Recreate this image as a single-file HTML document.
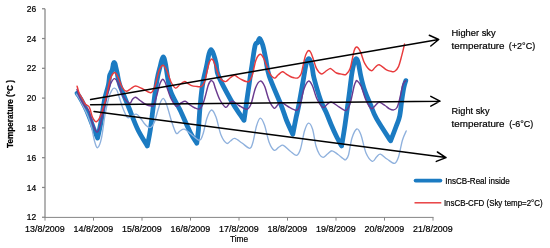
<!DOCTYPE html>
<html><head><meta charset="utf-8"><title>Chart</title>
<style>html,body{margin:0;padding:0;background:#fff}body{width:550px;height:248px;overflow:hidden}</style></head>
<body>
<svg width="550" height="248" viewBox="0 0 550 248" style="display:block;font-family:'Liberation Sans',sans-serif" fill="#000">
<rect width="550" height="248" fill="#fff"/>
<g stroke="#868686" stroke-width="1.25" fill="none">
<path d="M45.0,8.75V217.75"/>
<path d="M45.0,217.4H433.5" stroke-width="1"/>
<path d="M42,8.75H45.0"/>
<path d="M42,38.54H45.0"/>
<path d="M42,68.32H45.0"/>
<path d="M42,98.11H45.0"/>
<path d="M42,127.89H45.0"/>
<path d="M42,157.68H45.0"/>
<path d="M42,187.46H45.0"/>
<path d="M42,217.25H45.0"/>
<path d="M45.00,217.25V220.6" stroke-width="1"/>
<path d="M93.50,217.25V220.6" stroke-width="1"/>
<path d="M142.00,217.25V220.6" stroke-width="1"/>
<path d="M190.50,217.25V220.6" stroke-width="1"/>
<path d="M239.00,217.25V220.6" stroke-width="1"/>
<path d="M287.50,217.25V220.6" stroke-width="1"/>
<path d="M336.00,217.25V220.6" stroke-width="1"/>
<path d="M384.50,217.25V220.6" stroke-width="1"/>
<path d="M433.00,217.25V220.6" stroke-width="1"/>
</g>
<text x="36.2" y="11.85" font-size="8.2" text-anchor="end" font-weight="normal" stroke="#000" stroke-width="0.2" textLength="9.4" lengthAdjust="spacingAndGlyphs">26</text>
<text x="36.2" y="41.64" font-size="8.2" text-anchor="end" font-weight="normal" stroke="#000" stroke-width="0.2" textLength="9.4" lengthAdjust="spacingAndGlyphs">24</text>
<text x="36.2" y="71.42" font-size="8.2" text-anchor="end" font-weight="normal" stroke="#000" stroke-width="0.2" textLength="9.4" lengthAdjust="spacingAndGlyphs">22</text>
<text x="36.2" y="101.21" font-size="8.2" text-anchor="end" font-weight="normal" stroke="#000" stroke-width="0.2" textLength="9.4" lengthAdjust="spacingAndGlyphs">20</text>
<text x="36.2" y="130.99" font-size="8.2" text-anchor="end" font-weight="normal" stroke="#000" stroke-width="0.2" textLength="9.4" lengthAdjust="spacingAndGlyphs">18</text>
<text x="36.2" y="160.78" font-size="8.2" text-anchor="end" font-weight="normal" stroke="#000" stroke-width="0.2" textLength="9.4" lengthAdjust="spacingAndGlyphs">16</text>
<text x="36.2" y="190.56" font-size="8.2" text-anchor="end" font-weight="normal" stroke="#000" stroke-width="0.2" textLength="9.4" lengthAdjust="spacingAndGlyphs">14</text>
<text x="36.2" y="220.35" font-size="8.2" text-anchor="end" font-weight="normal" stroke="#000" stroke-width="0.2" textLength="9.4" lengthAdjust="spacingAndGlyphs">12</text>
<text x="25.10" y="232.0" font-size="8.2" text-anchor="start" font-weight="normal" stroke="#000" stroke-width="0.2" textLength="39.6" lengthAdjust="spacingAndGlyphs">13/8/2009</text>
<text x="73.60" y="232.0" font-size="8.2" text-anchor="start" font-weight="normal" stroke="#000" stroke-width="0.2" textLength="39.6" lengthAdjust="spacingAndGlyphs">14/8/2009</text>
<text x="122.10" y="232.0" font-size="8.2" text-anchor="start" font-weight="normal" stroke="#000" stroke-width="0.2" textLength="39.6" lengthAdjust="spacingAndGlyphs">15/8/2009</text>
<text x="170.60" y="232.0" font-size="8.2" text-anchor="start" font-weight="normal" stroke="#000" stroke-width="0.2" textLength="39.6" lengthAdjust="spacingAndGlyphs">16/8/2009</text>
<text x="219.10" y="232.0" font-size="8.2" text-anchor="start" font-weight="normal" stroke="#000" stroke-width="0.2" textLength="39.6" lengthAdjust="spacingAndGlyphs">17/8/2009</text>
<text x="267.60" y="232.0" font-size="8.2" text-anchor="start" font-weight="normal" stroke="#000" stroke-width="0.2" textLength="39.6" lengthAdjust="spacingAndGlyphs">18/8/2009</text>
<text x="316.10" y="232.0" font-size="8.2" text-anchor="start" font-weight="normal" stroke="#000" stroke-width="0.2" textLength="39.6" lengthAdjust="spacingAndGlyphs">19/8/2009</text>
<text x="364.60" y="232.0" font-size="8.2" text-anchor="start" font-weight="normal" stroke="#000" stroke-width="0.2" textLength="39.6" lengthAdjust="spacingAndGlyphs">20/8/2009</text>
<text x="413.10" y="232.0" font-size="8.2" text-anchor="start" font-weight="normal" stroke="#000" stroke-width="0.2" textLength="39.6" lengthAdjust="spacingAndGlyphs">21/8/2009</text>
<text x="230.0" y="241.6" font-size="8.4" text-anchor="start" font-weight="normal" stroke="#000" stroke-width="0.2" textLength="18.2" lengthAdjust="spacingAndGlyphs">Time</text>
<text transform="translate(12.6,114) rotate(-90)" font-size="9" font-weight="bold" stroke="#000" stroke-width="0.25" text-anchor="middle" textLength="68" lengthAdjust="spacingAndGlyphs">Temperature (°C )</text>
<g fill="none" stroke-linecap="round" stroke-linejoin="round">
<path d="M77.0,93.3C77.5,94.1 79.0,95.9 80.2,98.0C81.5,100.1 83.0,103.0 84.5,106.0C86.0,109.0 87.5,112.3 89.0,116.0C90.5,119.7 92.1,124.3 93.5,128.0C94.9,131.7 96.9,136.3 97.6,138.0C98.2,135.3 99.8,128.3 101.0,122.0C102.2,115.7 103.3,106.2 104.5,100.0C105.7,93.8 107.6,89.0 108.4,85.0C109.2,81.0 109.2,77.8 109.6,75.8C110.0,73.8 110.4,74.0 110.8,73.0C111.2,72.0 111.8,71.1 112.2,70.0C112.6,68.9 112.7,67.6 112.9,66.5C113.1,65.4 113.2,64.3 113.4,63.6C113.6,62.9 113.9,62.4 114.2,62.4C114.5,62.4 114.7,62.8 115.0,63.6C115.3,64.4 115.4,65.4 115.8,67.0C116.2,68.6 116.5,70.0 117.2,73.0C117.9,76.0 117.8,79.2 119.8,85.0C121.8,90.8 126.0,100.5 129.0,108.0C132.0,115.5 134.9,123.7 138.0,130.0C141.1,136.3 145.8,143.3 147.3,146.0C147.8,143.3 149.3,136.8 150.3,130.0C151.3,123.2 152.4,113.3 153.5,105.0C154.6,96.7 155.9,86.5 157.0,80.0C158.1,73.5 159.3,69.8 160.3,66.0C161.3,62.2 162.1,57.3 163.0,57.0C163.9,56.7 164.3,58.5 165.5,64.0C166.7,69.5 167.8,82.3 170.2,90.0C172.6,97.7 176.8,103.2 180.2,110.3C183.5,117.4 187.5,127.0 190.3,132.5C193.1,138.0 195.7,141.4 196.8,143.2C197.1,141.0 197.9,135.5 198.4,130.0C198.9,124.5 199.3,115.8 199.8,110.0C200.3,104.2 200.7,99.7 201.2,95.0C201.7,90.3 202.3,85.8 203.0,82.0C203.7,78.2 204.5,75.0 205.2,72.0C205.9,69.0 206.4,67.0 207.0,64.0C207.6,61.0 208.3,56.4 209.0,54.0C209.7,51.6 210.2,49.6 211.0,49.6C211.8,49.6 212.6,51.6 213.5,54.0C214.4,56.4 215.4,60.3 216.2,64.0C217.0,67.7 216.0,70.0 218.5,76.0C221.0,82.0 227.4,93.8 231.0,100.2C234.6,106.6 237.8,111.2 240.0,114.5C242.2,117.8 243.3,119.3 244.0,120.3C244.3,118.2 245.2,112.2 245.8,108.0C246.4,103.8 247.0,99.0 247.6,95.0C248.2,91.0 248.7,87.5 249.2,84.0C249.7,80.5 250.1,77.2 250.6,74.0C251.1,70.8 251.5,68.3 252.0,65.0C252.5,61.7 253.1,57.2 253.6,54.0C254.1,50.8 254.6,47.8 255.0,46.0C255.4,44.2 255.6,43.9 256.0,43.4C256.4,42.9 256.9,43.6 257.5,42.8C258.1,42.0 258.9,38.2 259.8,38.6C260.7,39.0 261.7,41.8 262.7,45.0C263.7,48.2 264.5,52.8 265.6,58.0C266.7,63.2 266.7,68.3 269.2,76.0C271.7,83.7 277.9,97.0 280.8,104.3C283.7,111.6 284.4,115.0 286.4,120.0C288.4,125.0 291.7,131.9 292.8,134.3C293.3,131.6 295.0,123.0 296.0,118.0C297.0,113.0 297.8,110.6 299.0,104.3C300.2,98.0 302.2,86.2 303.3,80.0C304.4,73.8 304.9,70.2 305.5,67.0C306.1,63.8 306.4,62.4 307.0,61.0C307.6,59.6 308.2,58.5 308.8,58.6C309.4,58.7 309.9,59.9 310.5,61.5C311.1,63.1 311.7,65.2 312.3,68.0C312.9,70.8 312.6,72.6 314.0,78.0C315.4,83.4 318.6,94.5 320.6,100.2C322.6,105.9 324.2,107.9 326.0,112.0C327.8,116.1 329.6,121.0 331.3,125.0C333.0,129.0 334.6,132.5 336.3,136.0C338.0,139.5 340.7,144.3 341.6,146.0C342.2,142.5 343.7,134.0 345.0,125.0C346.3,116.0 348.4,100.5 349.5,92.0C350.6,83.5 351.1,78.7 351.8,74.0C352.5,69.3 353.1,66.6 353.8,64.0C354.5,61.4 355.4,58.8 356.2,58.6C356.9,58.4 357.5,60.1 358.3,63.0C359.1,65.9 359.8,71.5 360.8,76.0C361.8,80.5 362.9,85.3 364.5,90.0C366.1,94.7 368.3,99.6 370.3,104.3C372.3,109.0 373.0,112.3 376.4,118.4C379.8,124.5 388.2,137.1 390.6,140.8C391.6,138.3 394.8,130.1 396.3,126.0C397.8,121.9 398.8,120.3 399.7,116.0C400.6,111.7 401.1,105.0 401.8,100.2C402.5,95.4 403.2,90.6 403.9,87.3C404.6,84.0 405.5,81.7 405.8,80.6" stroke="#1b7bc2" stroke-width="4.8"/>
<path d="M76.2,94.0C76.7,94.8 78.1,96.3 79.3,98.5C80.5,100.7 82.0,104.0 83.5,107.0C85.0,110.0 86.7,113.2 88.0,116.5C89.3,119.8 90.4,122.9 91.5,127.0C92.6,131.1 93.5,137.6 94.5,141.0C95.5,144.4 96.4,148.2 97.6,147.7C98.8,147.2 100.3,143.4 101.5,138.0C102.7,132.6 103.8,121.8 105.0,115.0C106.2,108.2 107.8,101.2 109.0,97.0C110.2,92.8 111.1,91.5 112.0,90.0C112.9,88.5 113.7,88.1 114.5,88.2C115.3,88.3 116.2,89.1 117.0,90.5C117.8,91.9 118.0,93.5 119.0,96.5C120.0,99.5 121.6,105.0 123.0,108.5C124.4,112.0 126.0,116.0 127.3,117.3C128.6,118.6 129.5,117.0 131.0,116.5C132.5,116.0 134.7,114.0 136.2,114.2C137.7,114.4 138.7,116.0 140.0,117.5C141.3,119.0 143.0,121.9 144.3,123.5C145.6,125.1 146.9,126.4 148.0,127.0C149.1,127.6 149.9,128.1 151.0,127.3C152.1,126.5 153.3,125.0 154.5,122.0C155.7,119.0 157.2,112.4 158.3,109.0C159.4,105.6 160.0,103.3 160.8,101.5C161.6,99.7 162.4,98.3 163.2,98.3C164.0,98.3 164.7,99.7 165.5,101.5C166.3,103.3 166.9,105.6 168.0,109.0C169.1,112.4 170.4,118.0 171.8,122.0C173.2,126.0 174.8,131.7 176.2,133.2C177.6,134.7 178.7,131.7 180.0,131.0C181.3,130.3 182.5,128.7 184.3,129.2C186.1,129.7 188.5,132.2 191.0,134.0C193.5,135.8 197.4,140.2 199.4,140.2C201.4,140.2 201.7,137.7 203.0,134.0C204.3,130.3 205.6,122.0 207.0,118.0C208.4,114.0 210.0,110.2 211.5,110.0C213.0,109.8 214.4,112.8 216.0,117.0C217.6,121.2 219.2,130.6 221.0,135.0C222.8,139.4 225.0,142.3 226.6,143.3C228.2,144.3 229.2,141.8 230.5,141.0C231.8,140.2 232.8,138.1 234.7,138.4C236.6,138.7 239.5,141.3 242.0,143.0C244.5,144.7 248.0,148.5 249.8,148.3C251.6,148.1 251.9,145.7 253.0,142.0C254.1,138.3 255.3,130.0 256.5,126.0C257.7,122.0 258.9,118.3 260.2,118.1C261.5,117.9 263.0,121.0 264.5,125.0C266.0,129.0 267.4,137.8 269.0,142.0C270.6,146.2 272.6,149.5 274.3,150.3C276.0,151.1 277.5,147.8 279.0,147.0C280.5,146.2 281.5,144.6 283.3,145.3C285.1,146.0 287.8,149.3 290.0,151.0C292.2,152.7 294.8,155.7 296.5,155.4C298.2,155.1 299.2,153.1 300.5,149.0C301.8,144.9 303.2,135.3 304.5,131.0C305.8,126.7 307.2,123.4 308.5,123.1C309.8,122.8 311.2,125.2 312.5,129.0C313.8,132.8 314.8,141.8 316.0,146.0C317.2,150.2 318.3,152.6 319.5,154.5C320.7,156.4 321.9,157.4 323.2,157.3C324.5,157.2 326.0,155.1 327.5,154.0C329.0,152.9 330.4,150.7 332.1,150.8C333.9,150.9 336.2,153.2 338.0,154.5C339.8,155.8 341.7,157.6 343.0,158.5C344.3,159.4 344.9,160.3 345.8,159.7C346.7,159.1 347.5,158.6 348.5,155.0C349.5,151.4 350.6,142.3 352.0,138.0C353.4,133.7 355.3,129.5 356.8,129.0C358.3,128.5 359.5,131.0 361.0,135.0C362.5,139.0 364.1,148.6 366.0,153.0C367.9,157.4 370.6,160.6 372.3,161.3C374.1,162.0 375.1,158.2 376.5,157.0C377.9,155.8 378.6,153.9 380.4,154.2C382.1,154.5 384.6,157.5 387.0,159.0C389.4,160.5 392.6,163.6 394.5,163.3C396.4,163.0 397.2,160.9 398.5,157.0C399.8,153.1 401.2,144.3 402.5,140.0C403.8,135.7 405.6,132.5 406.2,131.0" stroke="#8fb1dd" stroke-width="1.35"/>
<path d="M77.0,89.5C77.2,90.3 77.9,92.8 78.5,94.5C79.1,96.2 79.6,97.5 80.7,99.5C81.8,101.5 83.9,105.1 85.1,106.7C86.2,108.3 86.9,107.9 87.6,108.9C88.3,109.9 89.1,111.3 89.5,112.5C89.9,113.7 89.4,113.5 90.2,116.0C91.0,118.5 93.0,125.1 94.2,127.8C95.4,130.5 96.2,132.4 97.2,132.1C98.2,131.8 98.9,130.0 100.0,126.0C101.1,122.0 102.7,113.7 104.0,108.0C105.3,102.3 106.8,96.2 108.0,92.0C109.2,87.8 109.9,85.2 111.0,83.0C112.1,80.8 113.2,78.6 114.4,78.6C115.6,78.6 116.6,80.1 118.0,83.0C119.4,85.9 121.1,92.6 123.0,96.0C124.9,99.4 128.0,102.7 129.6,103.2C131.2,103.8 131.5,100.3 132.5,99.3C133.5,98.3 134.3,97.1 135.6,97.3C136.8,97.5 138.3,99.3 140.0,100.5C141.7,101.7 144.1,103.6 146.0,104.5C147.9,105.4 150.2,105.8 151.5,106.0C152.8,106.2 152.7,107.0 153.5,105.5C154.3,104.0 155.3,100.4 156.3,97.0C157.3,93.6 158.7,87.7 159.5,85.0C160.3,82.3 160.6,82.0 161.2,81.0C161.8,80.0 162.2,79.1 162.8,79.2C163.4,79.3 164.0,80.2 164.7,81.5C165.4,82.8 165.8,84.2 166.8,87.0C167.9,89.8 169.4,95.3 171.0,98.5C172.6,101.7 174.5,105.5 176.2,106.3C177.9,107.0 179.5,103.8 181.0,103.0C182.5,102.2 183.8,101.0 185.3,101.3C186.8,101.6 188.4,103.9 190.0,105.0C191.6,106.1 193.4,107.3 195.0,108.0C196.6,108.7 198.2,109.5 199.5,109.0C200.8,108.5 201.6,107.0 202.5,105.0C203.4,103.0 204.2,100.2 205.1,97.0C206.0,93.8 207.2,88.5 208.0,86.0C208.8,83.5 209.2,82.9 209.8,82.0C210.4,81.1 210.9,80.5 211.5,80.6C212.1,80.7 212.8,81.1 213.5,82.5C214.2,83.9 214.5,86.1 215.6,89.0C216.7,91.9 218.3,97.0 220.0,100.0C221.7,103.0 224.1,106.6 225.6,107.3C227.1,108.0 227.8,105.0 229.0,104.0C230.2,103.0 231.0,101.0 232.7,101.3C234.4,101.5 236.7,104.2 239.0,105.5C241.3,106.8 244.8,109.5 246.8,109.3C248.8,109.0 249.6,107.5 251.0,104.0C252.4,100.5 254.0,91.8 255.5,88.0C257.0,84.2 258.7,81.4 260.2,81.1C261.7,80.8 263.0,82.8 264.5,86.0C266.0,89.2 267.4,96.3 269.0,100.0C270.6,103.7 272.8,107.5 274.3,108.3C275.8,109.0 276.8,105.5 278.0,104.5C279.2,103.5 279.6,102.0 281.3,102.3C283.0,102.6 285.5,105.2 288.0,106.5C290.5,107.8 294.5,110.5 296.5,110.3C298.5,110.0 298.8,108.5 300.0,105.0C301.2,101.5 302.6,93.0 304.0,89.0C305.4,85.0 307.1,81.6 308.5,81.1C309.9,80.6 311.1,83.0 312.5,86.0C313.9,89.0 315.2,95.4 317.0,99.0C318.8,102.6 321.4,106.6 323.1,107.5C324.8,108.4 325.7,105.4 327.0,104.5C328.3,103.6 329.4,101.8 331.1,102.0C332.8,102.2 335.2,104.4 337.0,105.5C338.8,106.6 340.5,108.0 342.0,108.8C343.5,109.6 344.8,110.9 346.0,110.5C347.2,110.1 348.2,108.2 349.0,106.5C349.8,104.8 350.1,103.7 351.0,100.2C351.9,96.7 353.4,88.7 354.2,85.7C355.0,82.7 355.2,82.8 355.7,82.0C356.2,81.2 356.2,80.1 357.1,80.8C358.0,81.5 359.6,83.0 361.0,86.0C362.4,89.0 364.2,95.7 365.5,99.0C366.8,102.3 367.9,104.4 369.0,106.0C370.1,107.6 370.9,109.0 372.0,108.8C373.1,108.6 374.6,106.1 375.8,105.0C377.0,103.9 377.9,102.2 379.4,102.3C380.9,102.4 383.3,104.4 385.0,105.5C386.7,106.6 388.1,108.1 389.5,108.8C390.9,109.5 392.4,110.1 393.7,109.9C394.9,109.7 396.1,109.1 397.0,107.5C397.9,105.9 398.5,103.8 399.4,100.2C400.3,96.6 401.8,88.7 402.6,85.7C403.4,82.7 403.8,82.8 404.3,82.0C404.8,81.2 405.6,81.0 405.8,80.8" stroke="#6a3a8f" stroke-width="1.45"/>
<path d="M77.1,86.2C77.3,86.9 77.9,89.2 78.3,90.5C78.7,91.8 78.9,92.7 79.6,94.0C80.2,95.3 81.3,96.7 82.2,98.3C83.1,99.9 84.2,102.6 85.1,103.8C86.0,105.0 86.8,105.1 87.5,105.6C88.2,106.1 88.6,106.1 89.1,106.8C89.5,107.5 89.7,108.1 90.2,109.6C90.7,111.1 91.4,114.3 92.0,116.0C92.6,117.7 93.3,119.0 94.0,120.0C94.7,121.0 95.5,122.1 96.4,121.8C97.3,121.5 98.5,120.0 99.5,118.0C100.5,116.0 101.5,113.2 102.6,109.7C103.7,106.2 105.1,102.0 106.3,97.0C107.5,92.0 108.7,84.1 110.0,80.0C111.3,75.9 113.1,73.0 114.4,72.5C115.7,72.0 116.7,74.6 118.0,77.0C119.3,79.4 120.6,84.6 122.0,87.0C123.4,89.4 125.0,91.0 126.5,91.2C128.0,91.5 129.5,89.4 131.0,88.5C132.5,87.6 133.8,86.0 135.6,86.0C137.4,86.0 139.5,87.4 142.0,88.5C144.5,89.6 148.5,93.1 150.7,92.7C152.9,92.3 153.6,89.6 155.0,86.0C156.4,82.4 157.7,74.5 159.0,71.0C160.3,67.5 161.6,65.5 162.8,65.3C164.1,65.1 165.1,67.2 166.5,70.0C167.9,72.8 169.5,79.0 171.0,82.0C172.5,85.0 174.0,87.7 175.5,88.1C177.0,88.5 178.5,85.6 180.0,84.5C181.5,83.4 183.1,81.8 184.4,81.6C185.7,81.4 186.8,82.8 188.0,83.5C189.2,84.2 190.1,85.1 191.6,85.6C193.1,86.1 195.4,86.3 197.0,86.5C198.6,86.7 200.2,86.9 201.3,86.5C202.4,86.1 202.8,85.2 203.5,84.0C204.2,82.8 204.5,82.4 205.3,79.2C206.1,76.0 207.7,67.8 208.5,64.7C209.3,61.6 209.8,61.5 210.3,60.5C210.9,59.5 211.3,58.9 211.8,59.0C212.3,59.1 212.8,59.6 213.5,61.0C214.2,62.4 214.8,64.3 215.8,67.1C216.9,69.9 218.2,75.2 219.8,77.6C221.4,80.0 223.8,81.5 225.5,81.6C227.2,81.7 228.5,79.1 230.0,78.0C231.5,76.9 233.1,75.3 234.4,75.2C235.7,75.1 236.7,76.7 238.0,77.5C239.3,78.3 241.1,79.3 242.4,80.0C243.7,80.7 244.9,81.2 246.0,81.5C247.1,81.8 248.1,82.1 248.9,81.6C249.7,81.1 250.3,80.0 251.0,78.5C251.7,77.0 252.2,75.8 253.0,72.7C253.8,69.6 254.8,63.1 256.0,60.0C257.2,56.9 258.9,54.5 260.2,54.3C261.5,54.1 262.5,56.0 264.0,59.0C265.5,62.0 267.3,68.8 269.0,72.0C270.7,75.2 272.8,77.6 274.3,78.1C275.8,78.6 276.7,76.0 278.0,75.0C279.3,74.0 281.0,72.0 282.3,71.8C283.6,71.6 284.7,73.0 286.0,73.8C287.3,74.6 289.0,75.8 290.3,76.5C291.6,77.2 292.8,77.5 294.0,77.8C295.2,78.0 296.6,78.3 297.6,78.0C298.6,77.7 299.1,76.9 299.8,76.0C300.5,75.1 300.8,75.4 301.6,72.4C302.4,69.4 303.9,61.2 304.8,57.9C305.7,54.6 306.1,53.8 306.8,52.5C307.5,51.2 308.2,50.4 308.9,50.4C309.6,50.4 310.1,51.2 310.8,52.5C311.5,53.8 312.0,55.4 312.9,57.9C313.8,60.4 315.1,65.2 316.1,67.6C317.1,69.9 317.9,70.9 318.8,72.0C319.8,73.1 320.7,74.1 321.8,74.0C322.9,73.9 324.2,72.4 325.5,71.5C326.8,70.6 328.7,68.9 329.8,68.6C330.9,68.3 330.9,68.8 332.0,69.5C333.1,70.2 334.8,72.2 336.5,73.0C338.2,73.8 340.4,74.0 342.0,74.2C343.6,74.4 344.7,75.4 346.1,74.4C347.5,73.4 348.9,72.3 350.2,68.3C351.5,64.3 353.1,54.0 354.2,50.5C355.3,47.0 355.8,46.7 356.9,47.0C358.0,47.3 359.3,49.4 360.6,52.1C361.9,54.8 362.9,60.3 364.7,63.4C366.4,66.5 369.4,70.0 371.1,70.7C372.8,71.4 373.6,68.5 375.0,67.5C376.4,66.5 377.3,64.3 379.2,64.7C381.1,65.1 384.5,68.8 386.5,69.9C388.5,71.0 389.7,71.0 391.0,71.3C392.3,71.6 393.2,72.3 394.5,71.5C395.8,70.7 397.3,69.3 398.5,66.6C399.7,63.9 400.8,59.1 401.8,55.4C402.8,51.6 404.1,46.0 404.5,44.1" stroke="#e83a3c" stroke-width="1.45"/>
</g>
<g fill="none" stroke="#000" stroke-width="1.5" stroke-linecap="round" stroke-linejoin="round">
<path d="M90.6,99.5L438.7,39.5M429.3,35.3L438.7,39.5L430.8,46.0"/>
<path d="M90.6,104.8L440,101.2M430.8,96.3L440,101.2L430.8,106.1"/>
<path d="M94.0,111.4L446,157.6M437.4,152.0L446,157.6L436.3,161.4"/>
</g>
<text x="451.6" y="36.4" font-size="9.7" text-anchor="start" font-weight="normal" stroke="#000" stroke-width="0.2" textLength="44.1" lengthAdjust="spacingAndGlyphs">Higher sky</text>
<text x="451.6" y="49" font-size="9.7" text-anchor="start" font-weight="normal" stroke="#000" stroke-width="0.2" textLength="53" lengthAdjust="spacingAndGlyphs">temperature</text>
<text x="508.8" y="49" font-size="9.7" text-anchor="start" font-weight="normal" stroke="#000" stroke-width="0.2" textLength="26.4" lengthAdjust="spacingAndGlyphs">(+2°C)</text>
<text x="451.6" y="113.8" font-size="9.7" text-anchor="start" font-weight="normal" stroke="#000" stroke-width="0.2" textLength="37.9" lengthAdjust="spacingAndGlyphs">Right sky</text>
<text x="451.6" y="126.5" font-size="9.7" text-anchor="start" font-weight="normal" stroke="#000" stroke-width="0.2" textLength="53" lengthAdjust="spacingAndGlyphs">temperature</text>
<text x="509.2" y="126.5" font-size="9.7" text-anchor="start" font-weight="normal" stroke="#000" stroke-width="0.2" textLength="24" lengthAdjust="spacingAndGlyphs">(-6°C)</text>
<path d="M415.6,180.6H440.4" stroke="#1b7bc2" stroke-width="3.8" stroke-linecap="round"/>
<text x="445.2" y="183.6" font-size="8.7" text-anchor="start" font-weight="normal" stroke="#000" stroke-width="0.2" textLength="64.5" lengthAdjust="spacingAndGlyphs">InsCB-Real inside</text>
<path d="M414.5,202.8H441.3" stroke="#e83a3c" stroke-width="1.45"/>
<text x="443.9" y="205.8" font-size="8.7" text-anchor="start" font-weight="normal" stroke="#000" stroke-width="0.2" textLength="98.7" lengthAdjust="spacingAndGlyphs">InsCB-CFD (Sky temp=2°C)</text>
</svg>
</body></html>
